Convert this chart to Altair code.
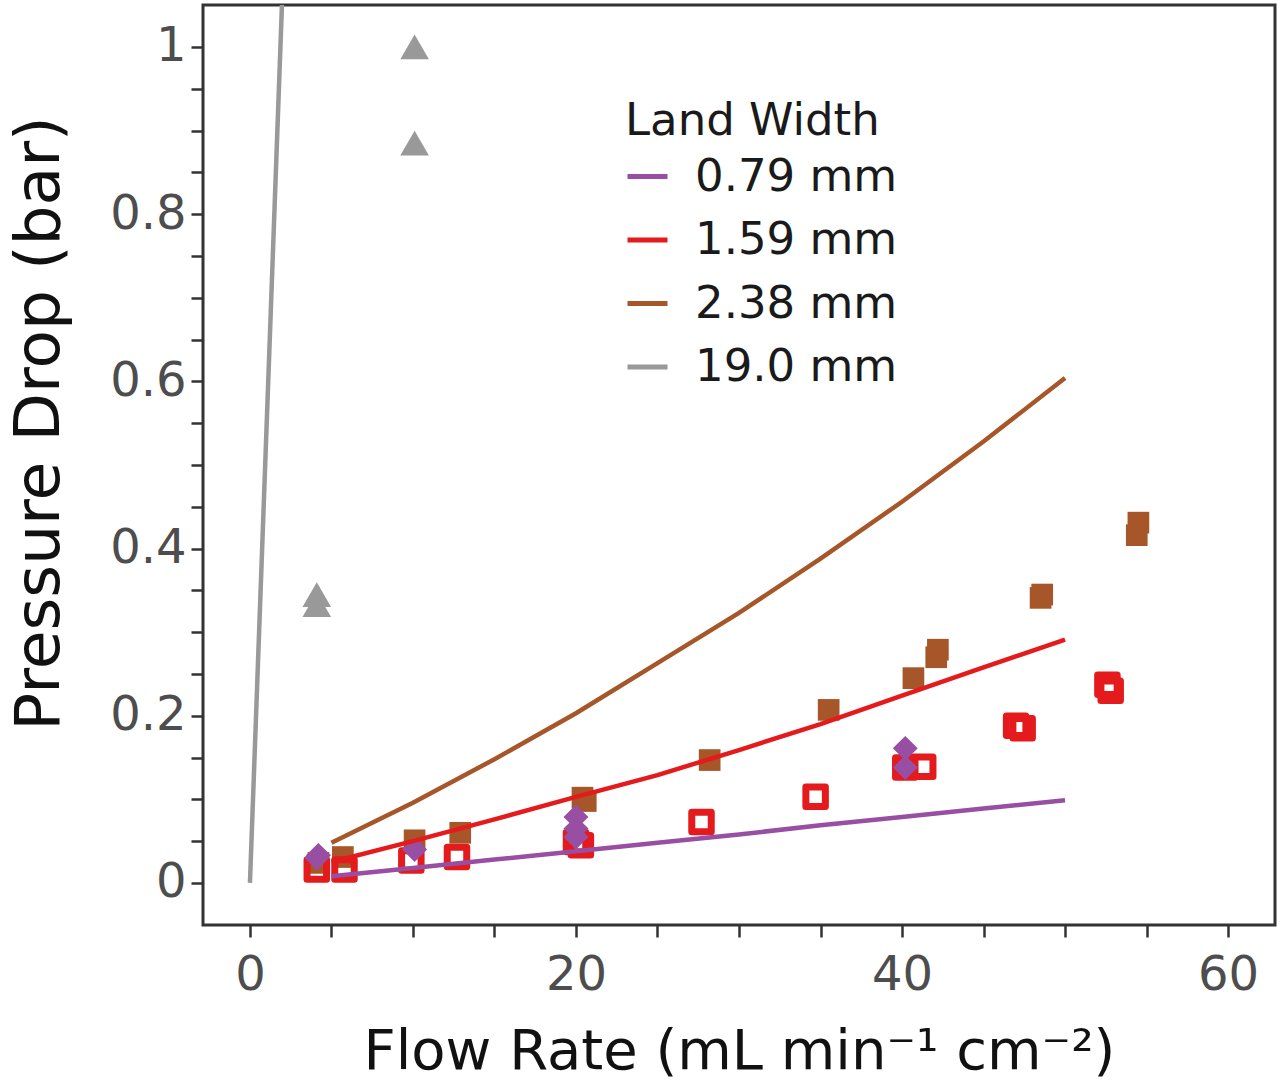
import altair as alt
import pandas as pd

FONT = "DejaVu Sans"

# ---- series definitions ----
series_labels = ["0.79 mm", "1.59 mm", "2.38 mm", "19.0 mm"]
series_colors = ["#984EA3", "#E41A1C", "#A65628", "#999999"]

# ---- model lines ----
model_x = [5, 10, 15, 20, 25, 30, 35, 40, 45, 50]
model_079_y = [0.008, 0.018, 0.028, 0.038, 0.048, 0.058, 0.069, 0.079, 0.089, 0.099]
model_159_y = [0.025, 0.050, 0.076, 0.103, 0.129, 0.159, 0.190, 0.224, 0.258, 0.291]
model_238_y = [0.048, 0.096, 0.148, 0.203, 0.263, 0.323, 0.388, 0.456, 0.528, 0.604]
model_190_x = [0, 2]
model_190_y = [0, 1.07]

# ---- measured points ----
meas_079_x = [4.1, 4.2, 10.1, 20.0, 20.0, 20.0, 40.2, 40.2]
meas_079_y = [0.030, 0.033, 0.040, 0.079, 0.065, 0.055, 0.161, 0.138]

meas_159_x = [4.1, 5.8, 9.9, 12.7, 20.0, 20.3, 27.7, 34.7, 40.2, 41.3, 47.0, 47.4, 52.6, 52.8]
meas_159_y = [0.016, 0.016, 0.027, 0.031, 0.049, 0.045, 0.073, 0.103, 0.138, 0.139, 0.188, 0.185, 0.237, 0.230]

meas_238_x = [4.2, 5.7, 10.1, 12.9, 20.4, 20.6, 28.2, 35.5, 40.7, 42.2, 42.1, 48.6, 48.5, 54.5, 54.4]
meas_238_y = [0.024, 0.031, 0.051, 0.060, 0.102, 0.098, 0.147, 0.207, 0.245, 0.279, 0.270, 0.345, 0.341, 0.431, 0.416]

meas_190_x = [4.1, 4.1, 10.1, 10.1]
meas_190_y = [0.345, 0.333, 1.0, 0.885]

# ---- axis ticks ----
x_tick_values = [0, 5, 10, 15, 20, 25, 30, 35, 40, 45, 50, 55, 60]
y_tick_values = [0, 0.05, 0.1, 0.15, 0.2, 0.25, 0.3, 0.35, 0.4, 0.45, 0.5,
                 0.55, 0.6, 0.65, 0.7, 0.75, 0.8, 0.85, 0.9, 0.95, 1.0]
x_domain = [-2.88, 62.88]
y_domain = [-0.0503, 1.0502]

# ---- tables ----
lines_df = pd.concat([
    pd.DataFrame({"x": model_190_x, "y": model_190_y, "series": series_labels[3]}),
    pd.DataFrame({"x": model_x, "y": model_238_y, "series": series_labels[2]}),
    pd.DataFrame({"x": model_x, "y": model_159_y, "series": series_labels[1]}),
    pd.DataFrame({"x": model_x, "y": model_079_y, "series": series_labels[0]}),
], ignore_index=True)

df079 = pd.DataFrame({"x": meas_079_x, "y": meas_079_y})
df159 = pd.DataFrame({"x": meas_159_x, "y": meas_159_y})
df238 = pd.DataFrame({"x": meas_238_x, "y": meas_238_y})
df190 = pd.DataFrame({"x": meas_190_x, "y": meas_190_y})

x_enc = alt.X(
    "x:Q",
    scale=alt.Scale(domain=x_domain, nice=False, zero=False),
    axis=alt.Axis(
        title="Flow Rate (mL min\u207b\u00b9 cm\u207b\u00b2)",
        values=x_tick_values,
        labelExpr="datum.value % 20 === 0 ? datum.label : ''",
        grid=False, domain=False,
        tickSize=12, tickWidth=2.5, tickColor="#333333",
        labelFont=FONT, labelFontSize=48, labelColor="#4d4d4d",
        labelPadding=14, labelOverlap=False, labelFlush=False,
        titleFont=FONT, titleFontSize=56, titleFontWeight="normal", titleColor="#111111",
        titleY=143, titleBaseline="alphabetic",
    ),
)
y_enc = alt.Y(
    "y:Q",
    scale=alt.Scale(domain=y_domain, nice=False, zero=False),
    axis=alt.Axis(
        title="Pressure Drop (bar)",
        values=y_tick_values,
        labelExpr="abs(datum.value*5 - round(datum.value*5)) < 0.001 ? format(datum.value, '.1~f') : ''",
        grid=False, domain=False,
        tickSize=12, tickWidth=2.5, tickColor="#333333",
        labelFont=FONT, labelFontSize=48, labelColor="#4d4d4d",
        labelPadding=5, labelOverlap=False, labelFlush=False,
        titleFont=FONT, titleFontSize=63, titleFontWeight="normal", titleColor="#111111",
        titleX=-164, titleY=418, titleBaseline="middle", titleAngle=270,
    ),
)

pts238 = alt.Chart(df238).mark_point(
    shape="square", filled=True, size=470, opacity=1, color=series_colors[2]
).encode(x=x_enc, y=y_enc)

pts159 = alt.Chart(df159).mark_point(
    shape="square", filled=False, size=380, strokeWidth=7, opacity=1,
    color=series_colors[1], strokeJoin="round"
).encode(x="x:Q", y="y:Q")

pts079 = alt.Chart(df079).mark_point(
    shape="diamond", filled=True, size=620, opacity=1, color=series_colors[0]
).encode(x="x:Q", y="y:Q")

pts190 = alt.Chart(df190).mark_point(
    shape="triangle-up", filled=True, size=820, opacity=1, color=series_colors[3]
).encode(x="x:Q", y="y:Q")

lines = alt.Chart(lines_df).mark_line(strokeWidth=4.5, clip=True).encode(
    x="x:Q",
    y="y:Q",
    detail="series:N",
    order="x:Q",
    color=alt.Color(
        "series:N",
        scale=alt.Scale(domain=series_labels, range=series_colors),
        legend=alt.Legend(
            title="Land Width",
            orient="none", legendX=422, legendY=94,
            symbolType="stroke", symbolSize=1600, symbolStrokeWidth=5,
            labelFont=FONT, labelFontSize=45, labelColor="#1a1a1a",
            titleFont=FONT, titleFontSize=45, titleFontWeight="normal", titleColor="#1a1a1a",
            labelOffset=25, rowPadding=17.5, titlePadding=10, padding=0,
            labelLimit=500, titleLimit=500,
        ),
    ),
)

chart = alt.layer(pts238, pts159, pts079, pts190, lines).properties(
    width=1072, height=920,
    autosize=alt.AutoSizeParams(type="none"),
    padding={"left": 203, "top": 5, "right": 5, "bottom": 165},
    background="white",
).configure_view(stroke="#333333", strokeWidth=3)

chart.save("out.html", embed_options={"renderer": "svg", "actions": False})
